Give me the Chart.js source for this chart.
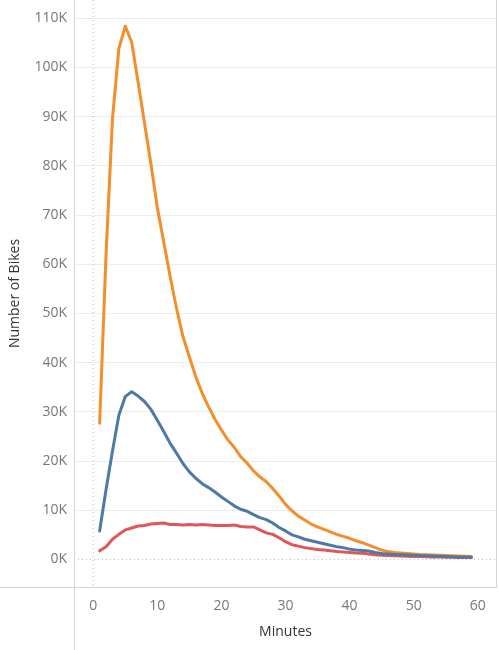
<!DOCTYPE html>
<html>
<head>
<meta charset="utf-8">
<script src="https://cdn.jsdelivr.net/npm/chart.js@4"></script>
<style>
    body { margin: 0; background: #fff; }
    #wrap { width: 499px; height: 650px; }
</style>
</head>
<body>
<div id="wrap"><canvas id="bikes-chart" width="499" height="650"></canvas></div>
<script>
// Datos (minutos de viaje y número de bicis, en miles)
const minutes = [1, 2, 3, 4, 5, 6, 7, 8, 9, 10, 11, 12, 13, 14, 15, 16, 17, 18, 19, 20,
    21, 22, 23, 24, 25, 26, 27, 28, 29, 30, 31, 32, 33, 34, 35, 36, 37, 38, 39, 40,
    41, 42, 43, 44, 45, 46, 47, 48, 49, 50, 51, 52, 53, 54, 55, 56, 57, 58, 59];

const orangeK = [27.7, 62, 89.5, 103.8, 108.4, 105.1, 97, 88.7, 80.4, 71.5,
    64.5, 57.5, 51, 45.3, 41.2, 37.1, 33.8, 31, 28.5, 26.3,
    24.3, 22.8, 20.9, 19.6, 18.0, 16.8, 15.8, 14.4, 12.9, 11.2,
    9.9, 8.8, 8.0, 7.2, 6.6, 6.1, 5.6, 5.1, 4.7, 4.3,
    3.8, 3.4, 2.9, 2.4, 1.9, 1.6, 1.4, 1.3, 1.2, 1.1,
    1.0, 0.95, 0.9, 0.85, 0.8, 0.75, 0.7, 0.65, 0.6];

const blueK = [5.8, 14.2, 22.0, 29.3, 33.1, 34.1, 33.2, 32.1, 30.5, 28.3,
    26.0, 23.6, 21.6, 19.5, 17.8, 16.5, 15.4, 14.6, 13.7, 12.7,
    11.8, 10.9, 10.2, 9.8, 9.1, 8.5, 8.1, 7.4, 6.5, 5.8,
    5.0, 4.6, 4.1, 3.8, 3.5, 3.2, 2.9, 2.6, 2.4, 2.1,
    1.9, 1.8, 1.7, 1.4, 1.2, 1.1, 1.0, 0.95, 0.9, 0.85,
    0.8, 0.75, 0.7, 0.65, 0.6, 0.55, 0.5, 0.5, 0.45];

const redK = [1.75, 2.6, 4.1, 5.1, 6.0, 6.4, 6.8, 6.9, 7.2, 7.3,
    7.4, 7.1, 7.1, 7.0, 7.1, 7.0, 7.1, 7.0, 6.9, 6.9,
    6.9, 7.0, 6.7, 6.6, 6.6, 6.0, 5.4, 5.1, 4.4, 3.6,
    3.0, 2.7, 2.4, 2.2, 2.0, 1.9, 1.75, 1.6, 1.5, 1.4,
    1.3, 1.25, 1.1, 0.95, 0.85, 0.8, 0.75, 0.7, 0.65, 0.6,
    0.6, 0.55, 0.5, 0.5, 0.45, 0.45, 0.4, 0.4, 0.4];

const xTicks = [0, 10, 20, 30, 40, 50, 60];
const yTicks = [0, 10, 20, 30, 40, 50, 60, 70, 80, 90, 100, 110];

function toPoints(values) {
    return minutes.map((m, i) => ({ x: m, y: values[i] }));
}

// Marco y líneas de cero punteadas
const framePlugin = {
    id: 'frame',
    beforeDatasetsDraw(chart) {
        const { ctx, chartArea, scales } = chart;
        const x0 = scales.x.getPixelForValue(0);
        const y0 = scales.y.getPixelForValue(0);
        ctx.save();
        ctx.strokeStyle = '#bdbdbd';
        ctx.lineWidth = 1;
        ctx.setLineDash([1, 3]);
        ctx.beginPath();
        ctx.moveTo(x0, chartArea.top);
        ctx.lineTo(x0, chartArea.bottom);
        ctx.moveTo(chartArea.left, y0);
        ctx.lineTo(chartArea.right, y0);
        ctx.stroke();
        ctx.restore();
    },
    afterDraw(chart) {
        const { ctx, chartArea } = chart;
        ctx.save();
        ctx.strokeStyle = '#d4d4d4';
        ctx.lineWidth = 1;
        ctx.beginPath();
        ctx.moveTo(chartArea.left + 0.5, 0);
        ctx.lineTo(chartArea.left + 0.5, chart.height);
        ctx.moveTo(0, chartArea.bottom + 0.5);
        ctx.lineTo(chartArea.right, chartArea.bottom + 0.5);
        ctx.moveTo(chartArea.right - 0.5, 0);
        ctx.lineTo(chartArea.right - 0.5, chartArea.bottom);
        ctx.stroke();
        ctx.restore();
    }
};

const tickFont = { family: 'Open Sans', size: 14 };
const titleFont = { family: 'Open Sans', size: 14 };

const bikesChart = new Chart(document.getElementById('bikes-chart'), {
    type: 'line',
    data: {
        datasets: [{
            label: 'Azul',
            data: toPoints(blueK),
            borderColor: '#4e79a7',
            borderWidth: 3
        }, {
            label: 'Naranja',
            data: toPoints(orangeK),
            borderColor: '#f28e2b',
            borderWidth: 3
        }, {
            label: 'Rojo',
            data: toPoints(redK),
            borderColor: '#e15759',
            borderWidth: 3
        }]
    },
    options: {
        responsive: false,
        animation: false,
        layout: { padding: { top: 0, right: 2, bottom: 0, left: 0 } },
        elements: {
            point: { radius: 0 },
            line: { tension: 0, borderJoinStyle: 'round', borderCapStyle: 'round' }
        },
        plugins: {
            legend: { display: false },
            tooltip: { enabled: false }
        },
        scales: {
            x: {
                type: 'linear',
                min: -3,
                max: 63,
                afterBuildTicks: axis => { axis.ticks = xTicks.map(v => ({ value: v })); },
                afterFit: axis => {
                    axis.height = 63;
                    axis.paddingLeft = 0;
                    axis.paddingRight = 0;
                },
                grid: { display: false },
                border: { display: false },
                ticks: {
                    color: '#777777',
                    font: tickFont,
                    padding: 3,
                    maxRotation: 0
                },
                title: {
                    display: true,
                    text: 'Minutes',
                    color: '#333333',
                    font: titleFont,
                    padding: { top: 0, bottom: 10 }
                }
            },
            y: {
                min: -5.6,
                max: 113.7,
                afterBuildTicks: axis => { axis.ticks = yTicks.map(v => ({ value: v })); },
                afterFit: axis => {
                    axis.width = 74;
                    axis.paddingTop = 0;
                    axis.paddingBottom = 0;
                },
                grid: {
                    color: ctx => (ctx.tick && ctx.tick.value === 0) ? 'rgba(0,0,0,0)' : '#ededed',
                    drawTicks: false
                },
                border: { display: false },
                ticks: {
                    color: '#777777',
                    font: tickFont,
                    padding: 7,
                    callback: v => v + 'K'
                },
                title: {
                    display: true,
                    text: 'Number of Bikes',
                    color: '#333333',
                    font: titleFont,
                    padding: { top: 7, bottom: 0 }
                }
            }
        }
    },
    plugins: [framePlugin]
});
</script>
</body>
</html>
